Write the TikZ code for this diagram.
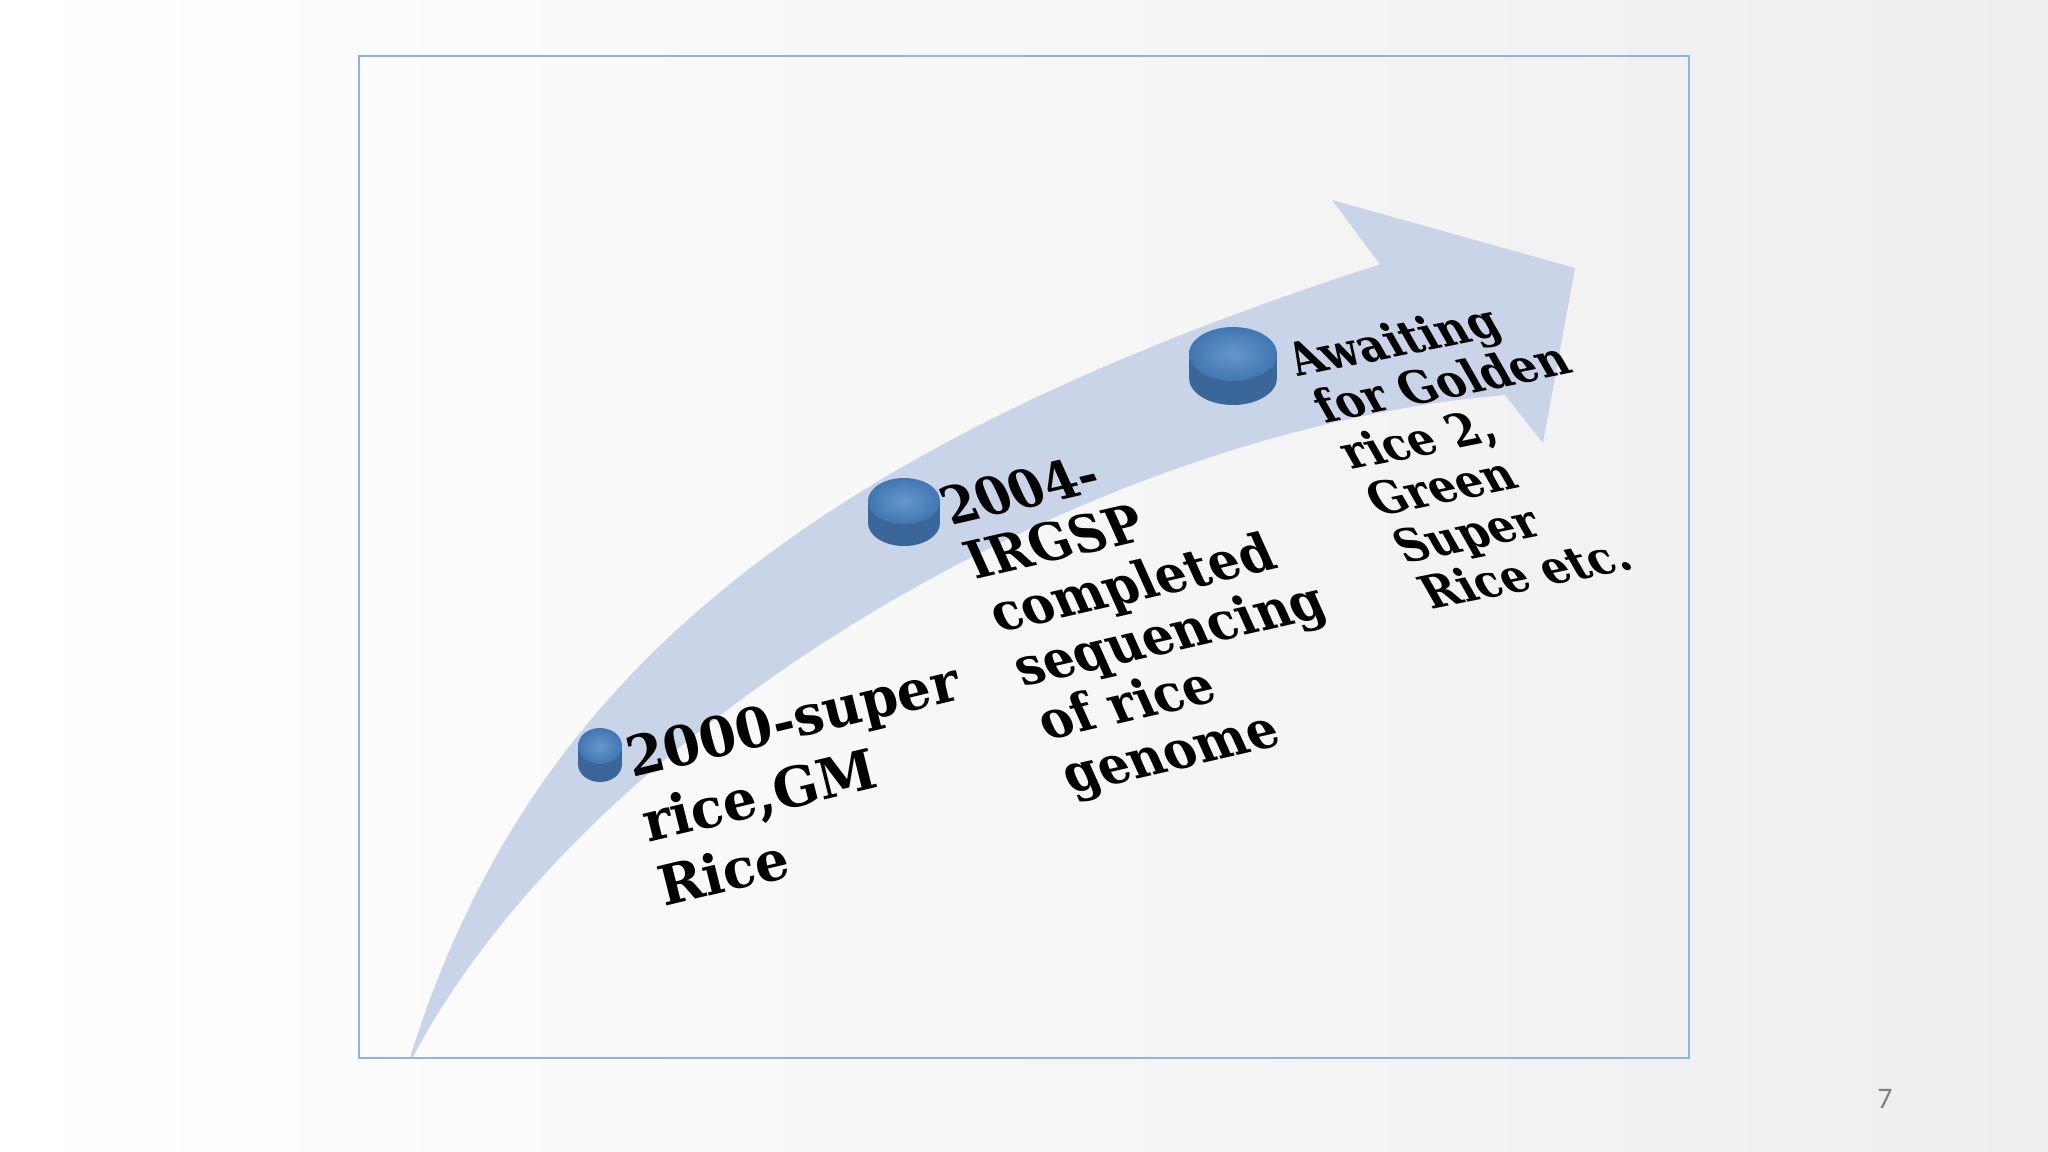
\documentclass[tikz,border=0pt]{standalone}
\usepackage{fontspec}
\newfontfamily\labelfont{DejaVu Serif}
\newfontfamily\slidefont{Carlito}
\definecolor{shaftblue}{RGB}{202,212,232}
\definecolor{frameblue}{RGB}{141,180,226}
\definecolor{disctop}{RGB}{84,140,202}
\definecolor{discrim}{RGB}{66,118,176}
\definecolor{discside}{RGB}{58,102,154}
\definecolor{bggray}{RGB}{238,238,240}

\begin{document}
\begin{tikzpicture}[x=0.01cm, y=-0.01cm,
    milestone/.style={inner sep=0pt, align=left, anchor=base west, transform shape}]
        \useasboundingbox (0,0) rectangle (2048,1152);
        \shade[left color=white, right color=bggray] (0,0) rectangle (2048,1152);
        \draw[frameblue, line width=0.6pt] (359,56) rectangle (1689,1058);

        % the curved arrow
        \fill[shaftblue] plot[domain=410:1380, samples=60, smooth] (\x, {1057-347*ln((\x-300)/110)})
            -- (1332,200) -- (1575,268) -- (1543,443) -- (1505,395)
            .. controls (1073,432) and (582,736) .. (413,1057) -- cycle;

        % the three discs
        \foreach \cx/\cy/\rx/\ry/\h in {600/746/22/18/18, 904/501/36/23/22, 1233/354/44/27/24} {
            \fill[discside] (\cx,\cy+\h) ellipse [x radius=\rx, y radius=\ry];
            \fill[discside] (\cx-\rx,\cy) rectangle (\cx+\rx,\cy+\h);
            \shade[inner color=disctop!90!white, outer color=discrim] (\cx,\cy) ellipse [x radius=\rx, y radius=\ry];
        }

        % base west of a node is the start of its last line
        \begin{scope}[shift={(664,907)}]
            \node[milestone, cm={0.972,0.233,-0.25,1,(0,0)},
                font={\labelfont\bfseries\fontsize{15.2}{18.35}\selectfont}] (y2000) at (0,0)
                {2000-super\\rice,GM\\Rice};
        \end{scope}
        \begin{scope}[shift={(1071,794)}]
            \node[milestone, cm={0.974,0.225,-0.45,1,(0,0)},
                font={\labelfont\bfseries\fontsize{14}{15.25}\selectfont}] (y2004) at (0,0)
                {2004-\\IRGSP\\completed\\sequencing\\of rice\\genome};
        \end{scope}
        \begin{scope}[shift={(1431,610)}]
            \node[milestone, cm={0.980,0.199,-0.57,1,(0,0)},
                font={\labelfont\bfseries\fontsize{12.2}{13.26}\selectfont}] (future) at (0,0)
                {Awaiting\\for Golden\\rice 2,\\Green\\Super\\Rice etc.};
        \end{scope}

        \node[font={\slidefont\fontsize{8.5}{10}\selectfont}, text=black!50] (pagenum) at (1885,1099) {7};
      \end{tikzpicture}
\end{document}
